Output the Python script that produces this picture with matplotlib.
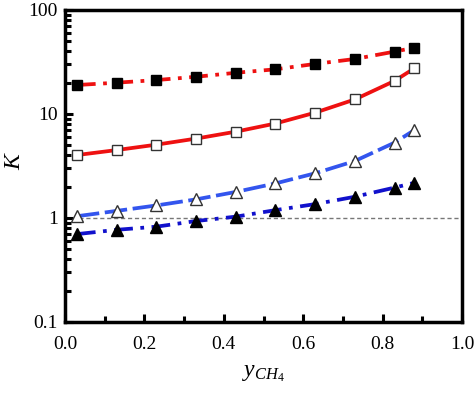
import matplotlib
matplotlib.use('Agg')
import matplotlib.pyplot as plt
from matplotlib.ticker import LogLocator, FixedLocator, NullFormatter

plt.rcParams.update({
    'font.family': 'serif',
    'font.serif': ['Liberation Serif', 'DejaVu Serif'],
    'mathtext.fontset': 'custom',
    'mathtext.it': 'Liberation Serif:italic',
    'mathtext.rm': 'Liberation Serif',
    'font.size': 12,
})

# ── Data ──
y_ch4 = [0.03, 0.13, 0.23, 0.33, 0.43, 0.53, 0.63, 0.73, 0.83, 0.88]
k_filled_sq = [19.0, 20.0, 21.2, 22.8, 24.9, 26.9, 30.3, 33.8, 39.8, 43.4]
k_open_sq = [4.03, 4.5, 5.07, 5.8, 6.76, 8.1, 10.3, 13.8, 20.8, 27.5]
k_open_tri = [1.04, 1.17, 1.32, 1.51, 1.78, 2.15, 2.69, 3.53, 5.3, 7.0]
k_filled_tri = [0.70, 0.77, 0.825, 0.935, 1.03, 1.19, 1.36, 1.6, 1.96, 2.18]

RED = '#EE1111'
BLUE = '#3355EE'
DBLUE = '#1111CC'

fig = plt.figure(figsize=(4.74, 3.97), dpi=100)
ax = fig.add_axes([65 / 474, 1 - 322 / 397, 397 / 474, 312 / 397])

# reference line K = 1
ax.axhline(1.0, color='#777777', lw=1.0, ls=(0, (3, 2)), zorder=1)

ax.plot(y_ch4, k_filled_sq, color=RED, lw=2.7, ls=(0, (5, 2, 1, 2)),
        marker='s', ms=6.5, mfc='black', mec='black', mew=1, zorder=3)
ax.plot(y_ch4, k_open_sq, color=RED, lw=2.7, ls='-',
        marker='s', ms=6.5, mfc='white', mec='#333333', mew=1, zorder=3)
ax.plot(y_ch4, k_open_tri, color=BLUE, lw=2.7, ls=(0, (6, 1.5)),
        marker='^', ms=8.5, mfc='white', mec='#333333', mew=1, zorder=3)
ax.plot(y_ch4, k_filled_tri, color=DBLUE, lw=2.7, ls=(0, (5, 2, 1, 2)),
        marker='^', ms=8.5, mfc='black', mec='black', mew=1, zorder=3)

ax.set_yscale('log')
ax.set_xlim(0.0, 1.0)
ax.set_ylim(0.1, 100)

ax.set_xticks([0.0, 0.2, 0.4, 0.6, 0.8, 1.0])
ax.set_xticklabels(['0.0', '0.2', '0.4', '0.6', '0.8', '1.0'])
ax.xaxis.set_minor_locator(FixedLocator([0.1, 0.3, 0.5, 0.7, 0.9]))
ax.set_yticks([0.1, 1, 10, 100])
ax.set_yticklabels(['0.1', '1', '10', '100'])
ax.yaxis.set_minor_locator(LogLocator(base=10, subs=range(2, 10)))
ax.yaxis.set_minor_formatter(NullFormatter())

ax.tick_params(which='both', direction='in', top=False, right=False,
               labelsize=14, width=2.2)
ax.tick_params(which='major', length=6)
ax.tick_params(which='minor', length=4)
ax.tick_params(axis='x', which='major', pad=10)
ax.tick_params(axis='y', which='major', pad=5)
for s in ax.spines.values():
    s.set_linewidth(2.5)

ax.set_xlabel(r'$y_{CH_4}$', fontsize=17)
ax.set_ylabel(r'$K$', fontsize=17)
ax.xaxis.set_label_coords(0.5, -(374 - 322) / 312)
ax.yaxis.set_label_coords(-(65 - 14) / 397, 1 - (160 - 10) / 312)
ax.xaxis.label.set_va('center')
ax.yaxis.label.set_va('center')

fig.savefig('out.png', dpi=100)
